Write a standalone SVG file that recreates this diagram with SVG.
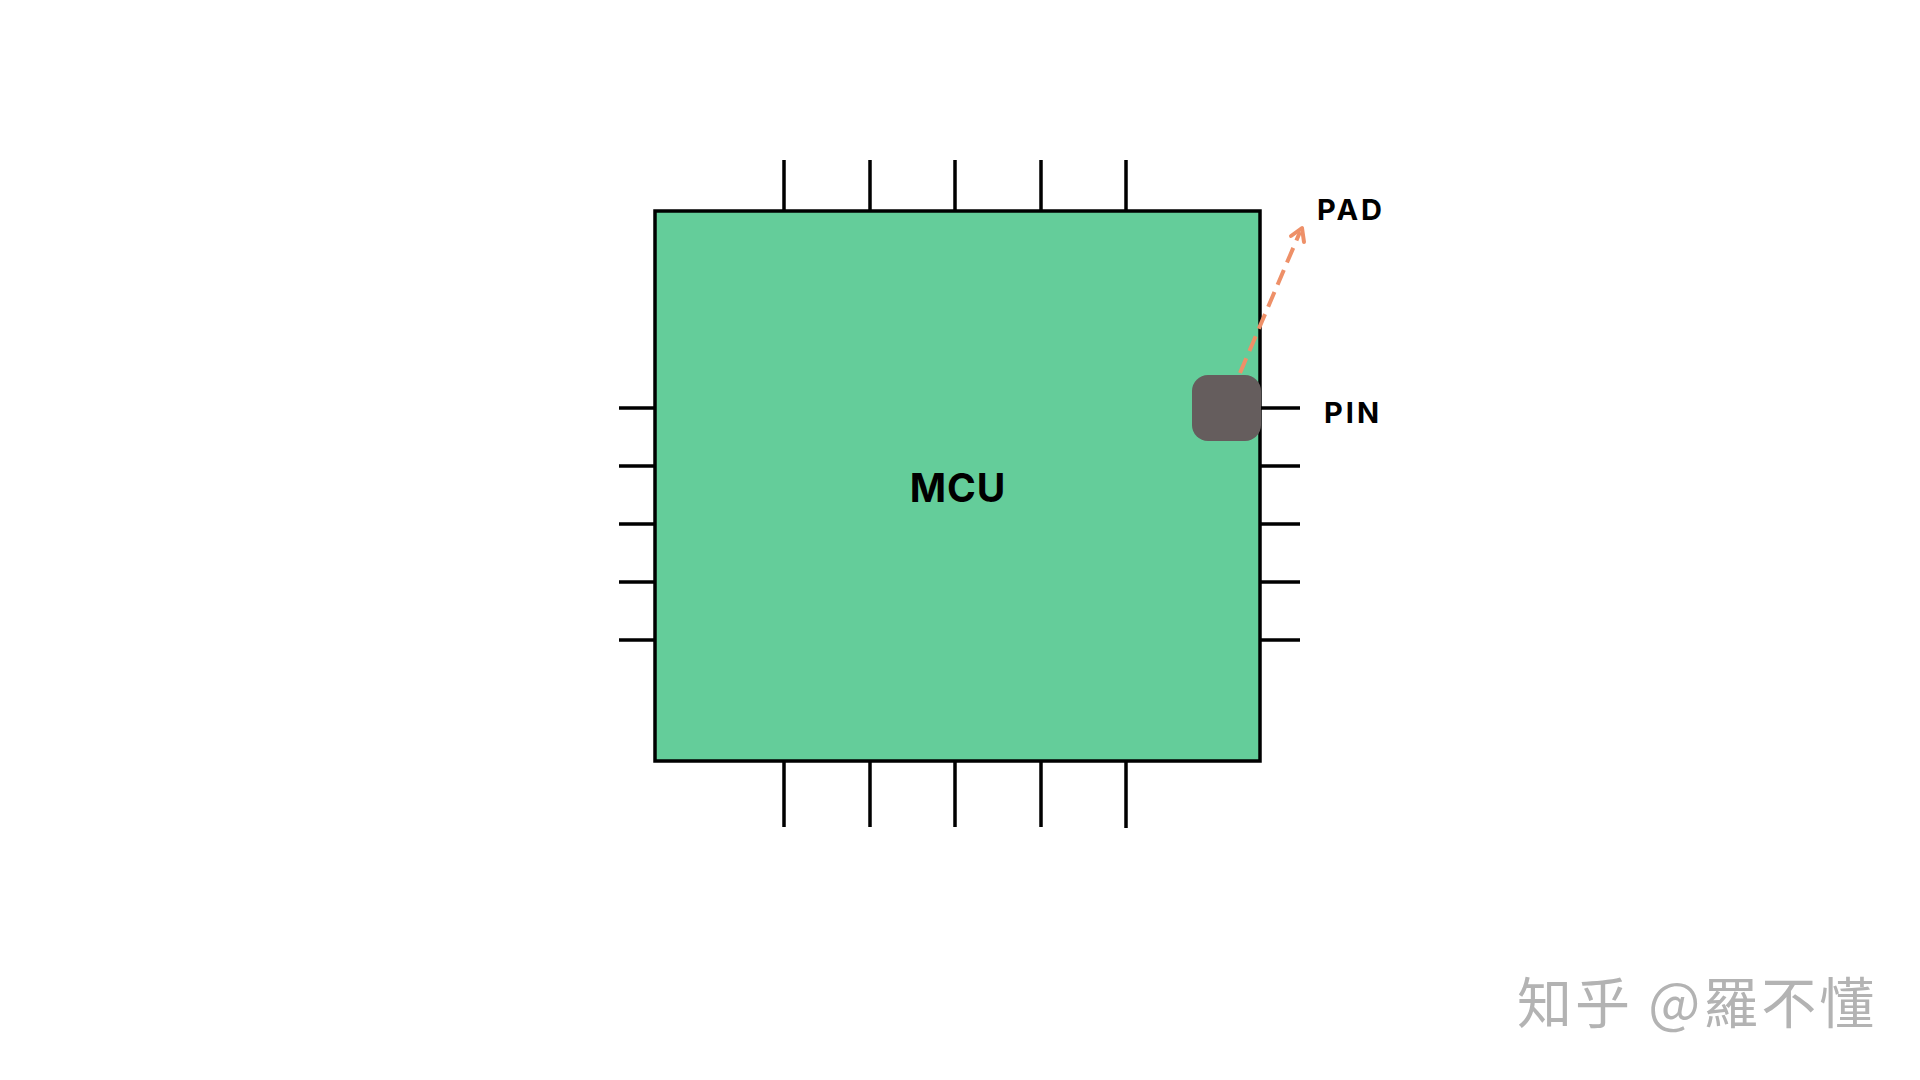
<svg xmlns="http://www.w3.org/2000/svg" width="1920" height="1080" viewBox="0 0 1920 1080">
<style>
.pin{stroke:#000;stroke-width:3.5;fill:none}
.lbl{font-family:Inter,"Liberation Sans",sans-serif;font-weight:700;fill:#000}
</style>
<rect width="1920" height="1080" fill="#fff"/>
<g id="mcu">
<rect x="655" y="211" width="605" height="550" fill="#64cd9a" stroke="#000" stroke-width="3.5"/>
<text class="lbl" x="958" y="502" font-size="39" letter-spacing="1" text-anchor="middle">MCU</text>
</g>
<g id="pins">
<path class="pin" d="M784 160V211M870 160V211M955 160V211M1041 160V211M1126 160V211"/>
<path class="pin" d="M784 761V827M870 761V827M955 761V827M1041 761V827M1126 761V828"/>
<path class="pin" d="M619 408H655M619 466H655M619 524H655M619 582H655M619 640H655"/>
<path class="pin" d="M1260 408H1300M1260 466H1300M1260 524H1300M1260 582H1300M1260 640H1300"/>
</g>
<g id="pad">
<rect x="1192" y="375" width="69" height="66" rx="16" fill="#655d5d"/>
</g>
<g id="connectors">
<line x1="1240" y1="373" x2="1300" y2="232" stroke="#ee9068" stroke-width="4" stroke-dasharray="16 8"/>
<path d="M1291 236L1302 228L1304 242" fill="none" stroke="#ee9068" stroke-width="4" stroke-linecap="round" stroke-linejoin="round"/>
</g>
<g id="labels">
<text class="lbl" x="1317" y="220" font-size="29" letter-spacing="3">PAD</text>
<text class="lbl" x="1324" y="423" font-size="29" letter-spacing="3">PIN</text>
</g>
<text x="1517" y="1023" font-size="55" letter-spacing="3" fill="#b3b3b3" font-family="'Noto Sans CJK SC','Noto Sans CJK TC',sans-serif">知乎 @羅不懂</text>
</svg>
